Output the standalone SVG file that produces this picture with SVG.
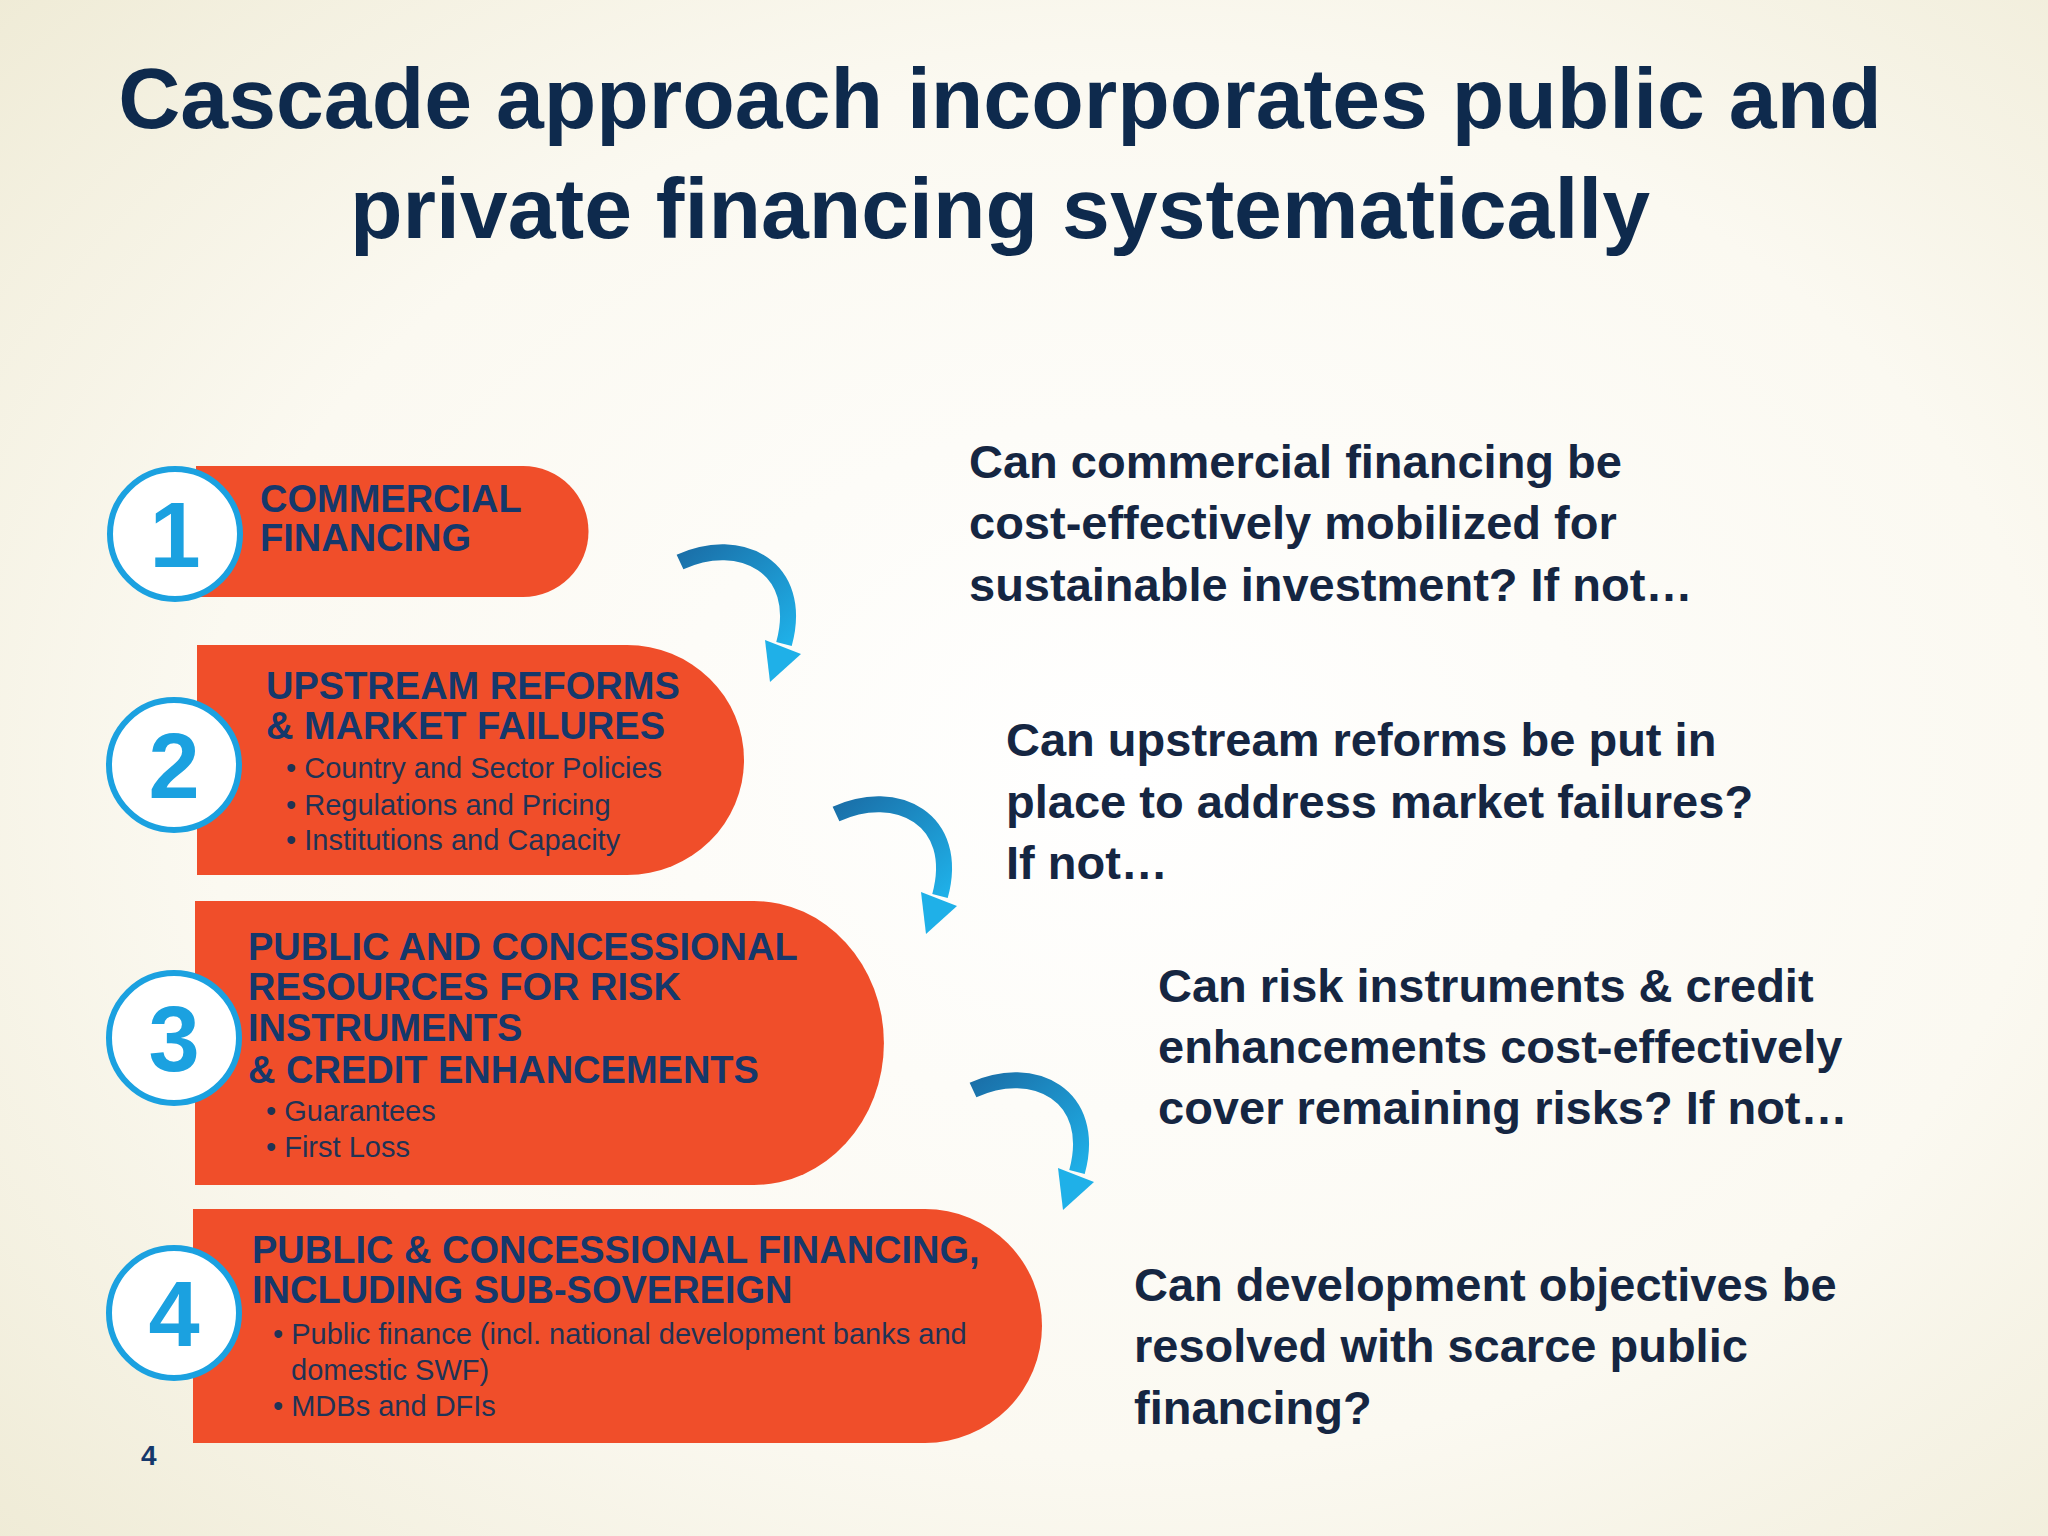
<svg xmlns="http://www.w3.org/2000/svg" width="2048" height="1536" viewBox="0 0 2048 1536">
<defs>
<radialGradient id="bg" cx="0.55" cy="0.5" r="0.75">
<stop offset="0" stop-color="#ffffff"/><stop offset="0.6" stop-color="#fbf9f1"/><stop offset="1" stop-color="#efebd6"/>
</radialGradient>
<linearGradient id="ag" x1="0" y1="0" x2="1" y2="1">
<stop offset="0" stop-color="#1a6fa8"/><stop offset="1" stop-color="#1fb0e8"/>
</linearGradient>
<style>
.box{fill:#F04E2A}
.circ{fill:#fff;stroke:#1BA1E0;stroke-width:6}
.num{font-family:"Liberation Sans",Arial,sans-serif;font-weight:bold;font-size:92px;fill:#1BA1E0;text-anchor:middle}
.hd{font-family:"Liberation Sans",Arial,sans-serif;font-weight:bold;font-size:38px;fill:#15386B}
.bl{font-family:"Liberation Sans",Arial,sans-serif;font-size:29px;fill:#1F3355}
.q{font-family:"Liberation Sans",Arial,sans-serif;font-weight:bold;font-size:47px;fill:#152642}
.t{font-family:"Liberation Sans",Arial,sans-serif;font-weight:bold;font-size:86px;fill:#0E2A4D;text-anchor:middle}
</style>
<g id="arrowShape">
<path d="M0,0 C60,-28 125,5 104,82" fill="none" stroke="url(#ag)" stroke-width="16" stroke-linecap="butt"/>
<polygon points="121,92 85,78 90,120" fill="#1fb0e8"/>
</g>
</defs>
<rect width="2048" height="1536" fill="url(#bg)"/>
<text class="t" x="1000" y="128">Cascade approach incorporates public and</text>
<text class="t" x="1000" y="238">private financing systematically</text>

<g id="node1">
<path class="box" d="M196,466 H523 A65,65 0 0 1 523,597 H196 Z"/>
<circle class="circ" cx="175" cy="534" r="65"/>
<text class="num" x="175" y="567">1</text>
<text class="hd" x="260" y="512">COMMERCIAL</text>
<text class="hd" x="260" y="551">FINANCING</text>
</g>
<g id="node2">
<path class="box" d="M197,645 H627 A117,115 0 0 1 627,875 H197 Z"/>
<circle class="circ" cx="174" cy="765" r="65"/>
<text class="num" x="174" y="798">2</text>
<text class="hd" x="266" y="699">UPSTREAM REFORMS</text>
<text class="hd" x="266" y="739">&amp; MARKET FAILURES</text>
<text class="bl" x="286" y="778">• Country and Sector Policies</text>
<text class="bl" x="286" y="815">• Regulations and Pricing</text>
<text class="bl" x="286" y="850">• Institutions and Capacity</text>
</g>
<g id="node3">
<path class="box" d="M195,901 H754 A130,142 0 0 1 754,1185 H195 Z"/>
<circle class="circ" cx="174" cy="1038" r="65"/>
<text class="num" x="174" y="1071">3</text>
<text class="hd" x="248" y="960">PUBLIC AND CONCESSIONAL</text>
<text class="hd" x="248" y="1000">RESOURCES FOR RISK</text>
<text class="hd" x="248" y="1041">INSTRUMENTS</text>
<text class="hd" x="248" y="1083">&amp; CREDIT ENHANCEMENTS</text>
<text class="bl" x="266" y="1121">• Guarantees</text>
<text class="bl" x="266" y="1157">• First Loss</text>
</g>
<g id="node4">
<path class="box" d="M193,1209 H925 A117,117 0 0 1 925,1443 H193 Z"/>
<circle class="circ" cx="174" cy="1313" r="65"/>
<text class="num" x="174" y="1346">4</text>
<text class="hd" x="252" y="1263">PUBLIC &amp; CONCESSIONAL FINANCING,</text>
<text class="hd" x="252" y="1303">INCLUDING SUB-SOVEREIGN</text>
<text class="bl" x="273" y="1344">• Public finance (incl. national development banks and</text>
<text class="bl" x="291" y="1380">domestic SWF)</text>
<text class="bl" x="273" y="1416">• MDBs and DFIs</text>
</g>
<g id="connectors">
<use href="#arrowShape" transform="translate(680,562)"/>
<use href="#arrowShape" transform="translate(836,814)"/>
<use href="#arrowShape" transform="translate(973,1090)"/>
</g>
<g id="questions">
<text class="q" x="969" y="478">Can commercial financing be</text>
<text class="q" x="969" y="539">cost-effectively mobilized for</text>
<text class="q" x="969" y="601">sustainable investment?  If not…</text>
<text class="q" x="1006" y="756">Can upstream reforms be put in</text>
<text class="q" x="1006" y="818">place to address market failures?</text>
<text class="q" x="1006" y="879">If not…</text>
<text class="q" x="1158" y="1002">Can risk instruments &amp; credit</text>
<text class="q" x="1158" y="1063">enhancements cost-effectively</text>
<text class="q" x="1158" y="1124">cover remaining risks? If not…</text>
<text class="q" x="1134" y="1301">Can development objectives be</text>
<text class="q" x="1134" y="1362">resolved with scarce public</text>
<text class="q" x="1134" y="1424">financing?</text>
</g>
<text x="141" y="1465" font-family="Liberation Sans,Arial,sans-serif" font-weight="bold" font-size="28" fill="#15386B">4</text>
</svg>
